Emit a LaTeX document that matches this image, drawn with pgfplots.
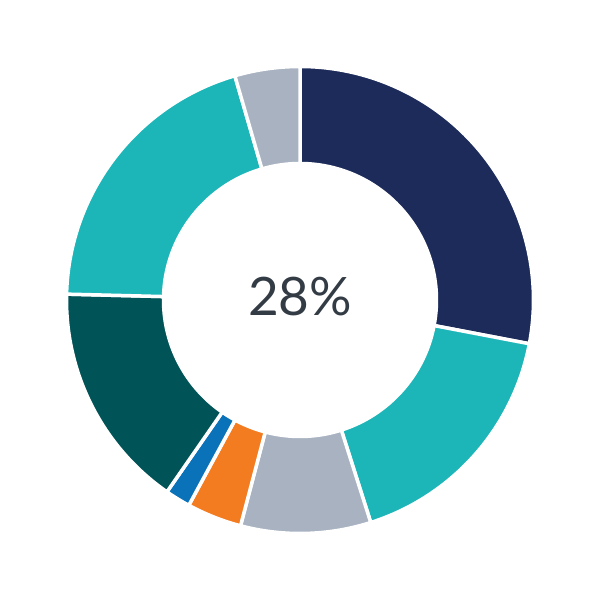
\documentclass[border=0pt]{standalone}
\usepackage{pgfplots}
\usepackage{pgfplotstable}
\pgfplotsset{compat=1.18}
\usepackage{fontspec}
\setmainfont{Lato}
\definecolor{navy}{HTML}{1C2B5A}
\definecolor{tealA}{HTML}{1CB5B8}
\definecolor{grayA}{HTML}{A8B2C1}
\definecolor{orangeA}{HTML}{F37B20}
\definecolor{blueA}{HTML}{0A72B8}
\definecolor{darkteal}{HTML}{005356}
\definecolor{textgray}{HTML}{333B45}
\pgfplotstableread{
value color
28 navy
17.1 tealA
9.0 grayA
3.8 orangeA
1.75 blueA
15.75 darkteal
20.1 tealA
4.5 grayA
}\donutdata
\begin{document}
\begin{tikzpicture}
\begin{axis}[width=600pt,height=600pt,scale only axis,
  xmin=-300,xmax=300,ymin=-300,ymax=300,axis lines=none,clip=false]
\path (axis cs:-300,-300) rectangle (axis cs:300,300);
\pgfplotstablegetrowsof{\donutdata}
\pgfmathtruncatemacro\N{\pgfplotsretval-1}
\def\cum{0}
\pgfplotsforeachungrouped \i in {0,...,\N}{
  \pgfplotstablegetelem{\i}{value}\of\donutdata \let\v\pgfplotsretval
  \pgfplotstablegetelem{\i}{color}\of\donutdata \let\c\pgfplotsretval
  \pgfmathsetmacro\a{90-\cum*3.6}
  \pgfmathsetmacro\b{90-(\cum+\v)*3.6}
  \edef\temp{\noexpand\fill[\c, draw=white, line width=3.5pt]
    ([shift={(\a:233.5pt)}]axis cs:0,0) arc[start angle=\a, end angle=\b, radius=233.5pt]
    -- ([shift={(\b:136.5pt)}]axis cs:0,0) arc[start angle=\b, end angle=\a, radius=136.5pt] -- cycle;}
  \temp
  \pgfmathsetmacro\cum{\cum+\v}
}
\node[text=textgray, font=\fontsize{53}{60}\selectfont, inner sep=0pt] at (axis cs:0,3) {28\%};
\end{axis}
\end{tikzpicture}
\end{document}
